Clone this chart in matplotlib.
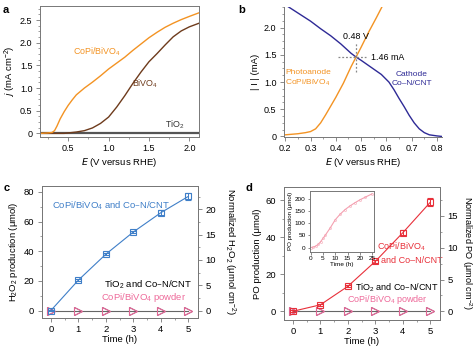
import numpy as np
import matplotlib
matplotlib.use("Agg")
from matplotlib import pyplot as plt
from matplotlib.ticker import MultipleLocator, FuncFormatter

plt.rcParams["font.family"] = ["Liberation Sans", "DejaVu Sans"]
plt.rcParams["font.size"] = 6.8
plt.rcParams["axes.edgecolor"] = "#777777"
plt.rcParams["axes.linewidth"] = 0.7
plt.rcParams["xtick.color"] = "#777777"
plt.rcParams["ytick.color"] = "#777777"
plt.rcParams["xtick.labelcolor"] = "black"
plt.rcParams["ytick.labelcolor"] = "black"
plt.rcParams["xtick.major.size"] = 3
plt.rcParams["ytick.major.size"] = 3
plt.rcParams["xtick.minor.size"] = 1.6
plt.rcParams["ytick.minor.size"] = 1.6
plt.rcParams["xtick.major.width"] = 0.6
plt.rcParams["ytick.major.width"] = 0.6
plt.rcParams["xtick.minor.width"] = 0.5
plt.rcParams["ytick.minor.width"] = 0.5
plt.rcParams["xtick.major.pad"] = 2
plt.rcParams["ytick.major.pad"] = 2.5
plt.rcParams["mathtext.default"] = "regular"

# panel a: LSV curves
E_a = [0.15, 0.25, 0.30, 0.33, 0.36, 0.40, 0.45, 0.50, 0.55, 0.60, 0.70, 0.80, 0.90,
       1.00, 1.10, 1.20, 1.30, 1.40, 1.50, 1.60, 1.70, 1.80, 1.90, 2.00, 2.12]
j_copi = [0.0, 0.01, 0.02, 0.06, 0.16, 0.32, 0.48, 0.62, 0.74, 0.85, 1.0, 1.13, 1.27,
          1.42, 1.55, 1.68, 1.83, 1.97, 2.11, 2.23, 2.34, 2.43, 2.51, 2.58, 2.66]
j_bivo4 = [0.0, 0.0, 0.0, 0.0, 0.0, 0.0, 0.0, 0.01, 0.02, 0.03, 0.06, 0.12, 0.22,
           0.36, 0.58, 0.83, 1.10, 1.35, 1.58, 1.76, 1.95, 2.13, 2.26, 2.35, 2.43]
j_tio2 = [0.0] * len(E_a)

# panel b: anode / cathode current matching
E_anode = [0.20, 0.25, 0.28, 0.30, 0.32, 0.34, 0.36, 0.38, 0.40, 0.43, 0.46, 0.48,
           0.50, 0.53, 0.56, 0.59]
I_anode = [0.03, 0.05, 0.07, 0.09, 0.14, 0.25, 0.40, 0.56, 0.72, 0.98, 1.28, 1.46,
           1.64, 1.92, 2.18, 2.45]
E_cathode = [0.20, 0.23, 0.26, 0.30, 0.34, 0.38, 0.42, 0.46, 0.48, 0.50, 0.54, 0.58,
             0.61, 0.63, 0.65, 0.67, 0.69, 0.71, 0.73, 0.75, 0.77, 0.80, 0.82]
I_cathode = [2.42, 2.33, 2.24, 2.12, 1.98, 1.85, 1.70, 1.53, 1.46, 1.40, 1.27, 1.14,
             1.00, 0.86, 0.70, 0.55, 0.39, 0.25, 0.14, 0.07, 0.03, 0.01, 0.0]

# panel c: H2O2 production
t_h = [0, 1, 2, 3, 4, 5]
h2o2 = [0, 20.5, 38, 53, 66, 77]
h2o2_err = [0.5, 0.6, 0.8, 0.8, 1.5, 2.5]
h2o2_tio2 = [0, 0, 0, 0, 0, 0]
h2o2_powder = [0, 0, 0, 0, 0, 0]

# panel d: PO production
po = [0, 3.5, 13.5, 27, 42.5, 59]
po_err = [0.5, 0.6, 0.6, 0.8, 1.5, 2.2]
po_tio2 = [0, 0, 0, 0, 0, 0]
po_powder = [0, 0, 0, 0, 0, 0]

# panel d inset: long-term PO
t_long = [0, 1, 2, 3, 4, 5, 6, 8, 10, 12, 14, 16, 18, 20, 22, 25]
po_long = [0, 2, 6, 13, 24, 38, 52, 82, 115, 138, 157, 172, 185, 197, 207, 222]

orange = "#F39323"
brown = "#6E3B1C"
navy = "#2E2A96"
blue = "#3F7FC8"
red = "#E8303A"
pink = "#EE6A9A"

fmt = FuncFormatter(lambda v, p: "0" if abs(v) < 1e-9 else f"{v:.1f}")
W, H = 474, 347


def ax_at(l, t, r, b):
    return fig.add_axes([l / W, 1 - b / H, (r - l) / W, (b - t) / H])


fig = plt.figure(figsize=(4.74, 3.47), dpi=100)

# ---- a
ax = ax_at(40, 6, 199, 137)
ax.plot(E_a, j_tio2, color="#555555", lw=1.6)
ax.plot(E_a, j_bivo4, color=brown, lw=1.0)
ax.plot(E_a, j_copi, color=orange, lw=1.0)
ax.set_xlim(0.15, 2.12)
ax.set_ylim(-0.08, 2.81)
ax.xaxis.set_major_locator(MultipleLocator(0.5))
ax.xaxis.set_minor_locator(MultipleLocator(0.25))
ax.yaxis.set_major_locator(MultipleLocator(0.5))
ax.yaxis.set_minor_locator(MultipleLocator(0.125))
ax.xaxis.set_major_formatter(fmt)
ax.yaxis.set_major_formatter(fmt)
ax.tick_params(labelsize=6.5)
ax.set_xlabel("$\\it{E}$ (V versus RHE)", labelpad=2)
ax.set_ylabel("$\\it{j}$ (mA cm$^{-2}$)", labelpad=1)
ax.text(0.86, 1.79, "CoPi/BiVO$_4$", color=orange, ha="center", va="center",
        fontsize=6.4)
ax.text(1.45, 1.1, "BiVO$_4$", color=brown, ha="center", va="center",
        fontsize=6.4)
ax.text(1.82, 0.18, "TiO$_2$", color="#333333", ha="center", va="center",
        fontsize=6.4)

# ---- b
ax = ax_at(284, 7, 442, 137)
ax.plot(E_cathode, I_cathode, color=navy, lw=1.0)
ax.plot(E_anode, I_anode, color=orange, lw=1.0)
ax.plot([0.48, 0.48], [1.19, 1.71], color="#888888", lw=0.9, ls=(0, (1.5, 1.5)))
ax.plot([0.41, 0.52], [1.46, 1.46], color="#888888", lw=0.9, ls=(0, (1.5, 1.5)))
ax.set_xlim(0.195, 0.82)
ax.set_ylim(-0.01, 2.38)
ax.spines["top"].set_visible(False)
ax.spines["right"].set_visible(False)
ax.xaxis.set_major_locator(MultipleLocator(0.1))
ax.xaxis.set_minor_locator(MultipleLocator(0.05))
ax.yaxis.set_major_locator(MultipleLocator(0.5))
ax.yaxis.set_minor_locator(MultipleLocator(0.125))
ax.xaxis.set_major_formatter(fmt)
ax.yaxis.set_major_formatter(fmt)
ax.tick_params(labelsize=6.5)
ax.set_xlabel("$\\it{E}$ (V versus RHE)", labelpad=2)
ax.set_ylabel("| I | (mA)", labelpad=3)
ax.text(0.48, 1.83, "0.48 V", ha="center", va="center", fontsize=6.4)
ax.text(0.54, 1.46, "1.46 mA", ha="left", va="center", fontsize=6.4)
ax.text(0.29, 1.06, "Photoanode\nCoPi/BiVO$_4$", color=orange, ha="center",
        va="center", linespacing=1.3, fontsize=6)
ax.text(0.70, 1.06, "Cathode\nCo\u2013N/CNT", color=navy, ha="center",
        va="center", linespacing=1.3, fontsize=6)


def production_panel(ax, y, yerr, y_tio2, y_powder, color, ylim, ratio):
    ax.plot(t_h, y_tio2, color="#666666", lw=0.8, marker=">", ms=5.5,
            mfc="none", mec="#9A4C74", mew=0.8, zorder=2)
    ax.plot(t_h, y_powder, color="none", marker=">", ms=5.5,
            mfc="none", mec=pink, mew=0.6, zorder=3)
    ax.errorbar(t_h, y, yerr=yerr, color=color, lw=0.8, marker="s", ms=4.5,
                mfc="none", mec=color, mew=0.8, capsize=2, elinewidth=0.7,
                zorder=4)
    ax.set_xlim(-0.32, 5.35)
    ax.set_ylim(*ylim)
    ax.xaxis.set_major_locator(MultipleLocator(1))
    ax.xaxis.set_minor_locator(MultipleLocator(0.5))
    ax.yaxis.set_major_locator(MultipleLocator(20))
    ax.yaxis.set_minor_locator(MultipleLocator(10))
    ax.set_xlabel("Time (h)", labelpad=1)
    ax2 = ax.twinx()
    ax2.set_ylim(ylim[0] * ratio, ylim[1] * ratio)
    ax2.yaxis.set_major_locator(MultipleLocator(5))
    ax2.yaxis.set_minor_locator(MultipleLocator(2.5))
    return ax2


# ---- c
ax = ax_at(42, 186, 198, 318)
ax2 = production_panel(ax, h2o2, h2o2_err, h2o2_tio2, h2o2_powder, blue,
                       (-5, 84), 0.293)
ax.set_ylabel("H$_2$O$_2$ production (\u03bcmol)", labelpad=3)
ax2.set_ylabel("Normalized H$_2$O$_2$ (\u03bcmol cm$^{-2}$)", rotation=270,
               va="bottom", labelpad=4)
ax.text(0.06, 71, "CoPi/BiVO$_4$ and Co\u2013N/CNT", color=blue, va="center")
ax.text(5.15, 17.3, "TiO$_2$ and Co\u2013N/CNT", color="black", ha="right",
        va="center")
ax.text(4.91, 9, "CoPi/BiVO$_4$ powder", color=pink, ha="right", va="center")

# ---- d
ax = ax_at(284, 187, 440, 320)
ax2 = production_panel(ax, po, po_err, po_tio2, po_powder, red,
                       (-4.7, 67.2), 0.291)
ax.set_ylabel("PO production (\u03bcmol)", labelpad=3)
ax2.set_ylabel("Normalized PO (\u03bcmol cm$^{-2}$)", rotation=270,
               va="bottom", labelpad=1.5, fontsize=6.6)
ax.text(3.07, 34.7, "CoPi/BiVO$_4$", color=red, va="center", fontsize=6.5)
ax.text(3.2, 27.6, "and Co\u2013N/CNT", color=red, va="center", fontsize=6.5)
ax.text(5.3, 12.7, "TiO$_2$ and Co\u2013N/CNT", color="black", ha="right",
        va="center", fontsize=6.5)
ax.text(4.92, 6.2, "CoPi/BiVO$_4$ powder", color=pink, ha="right",
        va="center", fontsize=6.5)

# inset
axi = ax_at(309.5, 190.7, 374, 251.7)
axi.plot(t_long, po_long, color="#F4A0B0", lw=0.8, marker="o", ms=1.5,
         mfc="none", mew=0.4)
axi.set_xlim(-0.5, 25.8)
axi.set_ylim(-17, 235)
axi.xaxis.set_major_locator(MultipleLocator(5))
axi.yaxis.set_major_locator(MultipleLocator(50))
axi.tick_params(labelsize=4.6, length=1.8, pad=1)
axi.set_xlabel("Time (h)", fontsize=4.6, labelpad=1)
axi.set_ylabel("PO production (\u03bcmol)", fontsize=4.4, labelpad=1)

for label, x, y in [("a", 3, 5), ("b", 238, 5), ("c", 4, 183), ("d", 246, 183)]:
    fig.text(x / W, 1 - y / H, label, fontsize=8, fontweight="bold",
             ha="left", va="top")

fig.savefig("out.png", dpi=100)
